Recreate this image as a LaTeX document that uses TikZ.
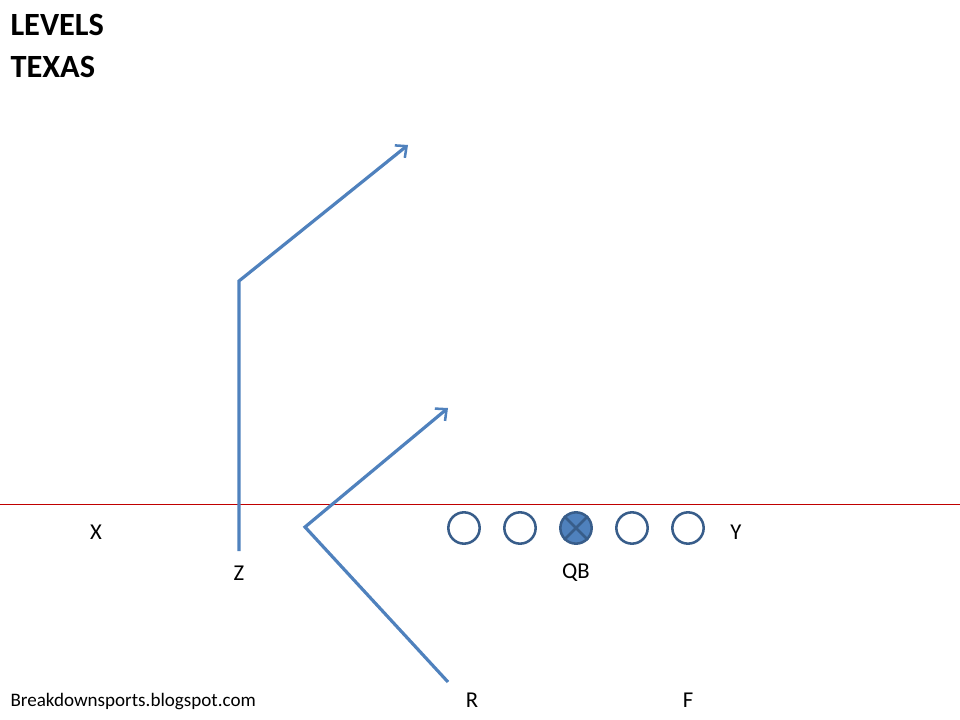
\documentclass[tikz,border=0pt]{standalone}
\usepackage{fontspec}
\setmainfont{Carlito}
\usetikzlibrary{arrows.meta}
\definecolor{routeblue}{RGB}{79,129,189}
\definecolor{ringblue}{RGB}{56,93,138}
\definecolor{losred}{RGB}{192,0,0}
\tikzset{every picture/.style={line width=0.75pt},
  player/.style={circle,draw=ringblue,line width=1.9pt,minimum size=23.5pt,inner sep=0pt},
  qbplayer/.style={player,fill=routeblue},
  route/.style={draw=routeblue,line width=2.4pt,line join=miter},
  routetip/.style={-{Straight Barb[length=6.5pt,width=12pt,line width=1.9pt]}},
  tag/.style={inner sep=0.75pt,font=\fontsize{17}{20}\selectfont}}

\begin{document}
\begin{tikzpicture}[x=0.75pt,y=0.75pt,yscale=-1,xscale=1]
\path[use as bounding box] (0,0) rectangle (960,720);

% Titles
\node (title1) [anchor=west,inner sep=0pt,font=\fontsize{24.3}{28}\selectfont\bfseries] at (10,25) {LEVELS};
\node (title2) [anchor=west,inner sep=0pt,font=\fontsize{24.3}{28}\selectfont\bfseries] at (10,67) {TEXAS};

% Line of scrimmage
\draw [losred] (0,504) -- (960,504);

% Offensive line
\node (lt) [player] at (464,528) {};
\node (lg) [player] at (520,528) {};
\node (ctr) [qbplayer] at (576,528) {};
\draw [ringblue,line width=1.9pt] (ctr.north west) -- (ctr.south east) (ctr.north east) -- (ctr.south west);
\node (rg) [player] at (632,528) {};
\node (rt) [player] at (688,528) {};

% Labels
\node (xlab) [tag] at (96,532) {X};
\node (zlab) [tag] at (239,573) {Z};
\node (qblab) [tag] at (576,573) {QB};
\node (ylab) [tag] at (736,532) {Y};
\node (rlab) [tag] at (472,700) {R};
\node (flab) [tag] at (688,700) {F};

% Routes
\coordinate (zstart) at (239,551);
\coordinate (zbreak) at (239,281);
\coordinate (zend) at (408,145);
\draw [route,routetip] (zstart) -- (zbreak) -- (zend);

\coordinate (rstart) at (448,682);
\coordinate (rbreak) at (305,527);
\coordinate (rend) at (448,408);
\draw [route,routetip] (rstart) -- (rbreak) -- (rend);

% Footer
\node (site) [anchor=west,inner sep=0pt,font=\fontsize{14.3}{17}\selectfont] at (10,702) {Breakdownsports.blogspot.com};

\end{tikzpicture}
\end{document}
